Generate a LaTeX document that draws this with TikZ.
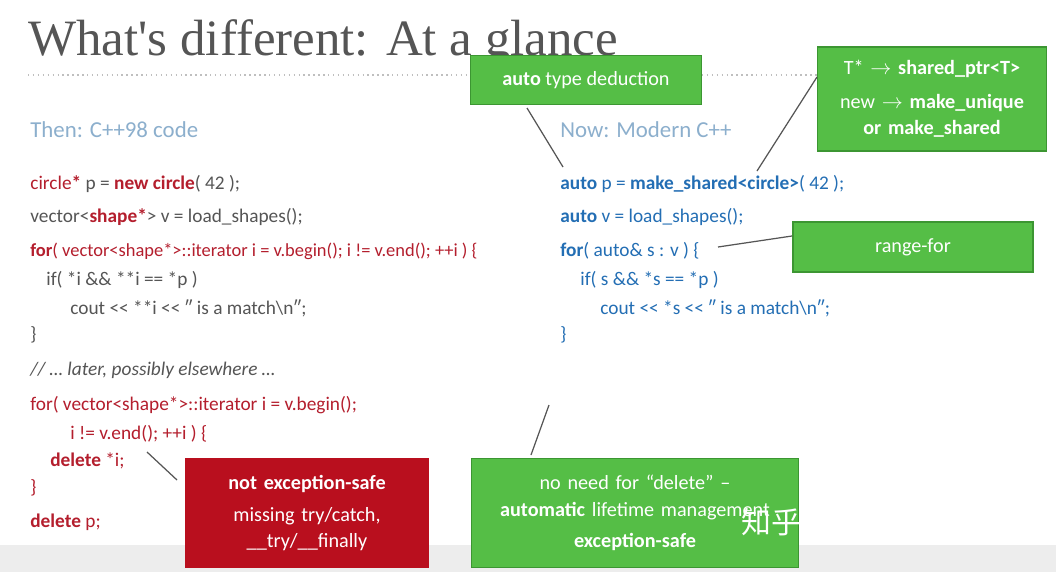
\documentclass[tikz,border=0pt]{standalone}
\usepackage{fontspec}
\setmainfont{Carlito}
\newfontfamily\titlefont{Liberation Serif}
\newfontfamily\cjk{Noto Sans CJK SC}
\definecolor{cred}{RGB}{180,30,45}
\definecolor{cgray}{RGB}{85,85,85}
\definecolor{cblue}{RGB}{35,110,180}
\definecolor{hblue}{RGB}{140,175,205}
\definecolor{gfill}{RGB}{85,190,70}
\definecolor{gline}{RGB}{60,150,50}
\definecolor{rfill}{RGB}{185,15,30}
\newcommand\shl{{<}{<}}
\begin{document}
\begin{tikzpicture}[x=0.02cm,y=-0.02cm,
  code/.style={anchor=west,inner sep=0,font=\fontsize{11}{13}\selectfont},
  gbox/.style={draw=gline,line width=0.8pt,fill=gfill,text=white,align=center,font=\fontsize{11.5}{15}\selectfont},
  rbox/.style={fill=rfill,text=white,align=center,font=\fontsize{11.5}{15}\selectfont},
  lead/.style={draw=cgray,line width=0.7pt}]
\useasboundingbox[fill=white] (0,0) rectangle (1056,572);
\fill[white!93!black] (0,545) rectangle (1056,572);
\node[anchor=west,inner sep=0,text=cgray,font=\titlefont\fontsize{29}{32}\selectfont] (title) at (28,43) {What's different: At a glance};
\draw[white!75!black,dotted,line width=0.8pt] (28,75) -- (1030,75);
\node[code,text=hblue,font=\fontsize{13}{15}\selectfont] (h1) at (30,130) {Then: C++98 code};
\node[code,text=hblue,font=\fontsize{13}{15}\selectfont] (h2) at (560,130) {Now: Modern C++};
% left code
\node[code,text=cgray] (l1) at (30,184) {\textcolor{cred}{circle\textbf{*}} p = \textcolor{cred}{\textbf{new circle}}( 42 );};
\node[code,text=cgray] (l2) at (30,217) {vector<\textcolor{cred}{\textbf{shape*}}> v = load\_shapes();};
\node[code,text=cred,font=\fontsize{10.5}{13}\selectfont] (l3) at (30,251) {\textbf{for}( vector<shape*>::iterator i = v.begin(); i != v.end(); ++i ) \{};
\node[code,text=cgray] (l4) at (46,280) {if( *i \&\& **i == *p )};
\node[code,text=cgray] (l5) at (70,308) {cout \shl{} **i \shl{} ″ is a match\textbackslash n″;};
\node[code,text=cgray] (l6) at (30,335) {\}};
\node[code,text=cgray] (l7) at (30,370) {\textit{// … later, possibly elsewhere …}};
\node[code,text=cred] (l8) at (30,405) {for( vector<shape*>::iterator i = v.begin();};
\node[code,text=cred] (l9) at (70,434) {i != v.end(); ++i ) \{};
\node[code,text=cred] (l10) at (50,461) {\textbf{delete} *i;};
\node[code,text=cred] (l11) at (30,488) {\}};
\node[code,text=cred] (l12) at (30,522) {\textbf{delete} p;};
% right code
\node[code,text=cblue] (r1) at (560,184) {\textbf{auto} p = \textbf{make\_shared<circle>}( 42 );};
\node[code,text=cblue] (r2) at (560,217) {\textbf{auto} v = load\_shapes();};
\node[code,text=cblue] (r3) at (560,251) {\textbf{for}( auto\& s : v ) \{};
\node[code,text=cblue] (r4) at (580,280) {if( s \&\& *s == *p )};
\node[code,text=cblue] (r5) at (600,308) {cout \shl{} *s \shl{} ″ is a match\textbackslash n″;};
\node[code,text=cblue] (r6) at (560,335) {\}};
% boxes
\node[gbox,minimum width=4.62cm,minimum height=0.98cm] (b1) at (586,80) {\textbf{auto} type deduction};
\node[gbox,minimum width=4.58cm,minimum height=2.08cm,text width=4.3cm] (b2) at (932,99) {T* $\rightarrow$ \textbf{shared\_ptr<T>}\\[4pt] new $\rightarrow$ \textbf{make\_unique}\\ \textbf{or make\_shared}};
\node[gbox,minimum width=4.8cm,minimum height=1.0cm] (b3) at (913,247) {range-for};
\node[gbox,minimum width=6.55cm,minimum height=2.18cm,text width=6.3cm] (b4) at (635,513) {no need for ``delete'' --\\ \textbf{automatic} lifetime management\\[3pt] \textbf{exception-safe}};
\node[rbox,minimum width=4.9cm,minimum height=2.2cm,text width=4.6cm] (b5) at (307,513) {\textbf{not exception-safe}\\[3pt] missing try/catch,\\ \_\_try/\_\_finally};
% leaders
\draw[lead] (527,108) -- (563,167);
\draw[lead] (817,77) -- (757,171);
\draw[lead] (792,236) -- (718,247);
\draw[lead] (549,405) -- (531,455);
\draw[lead] (147,452) -- (177,480);
\node[text=white,font=\cjk\fontsize{17}{20}\selectfont,anchor=west] (wm) at (735,524) {知乎 @黄亮anthony};
\end{tikzpicture}
\end{document}
